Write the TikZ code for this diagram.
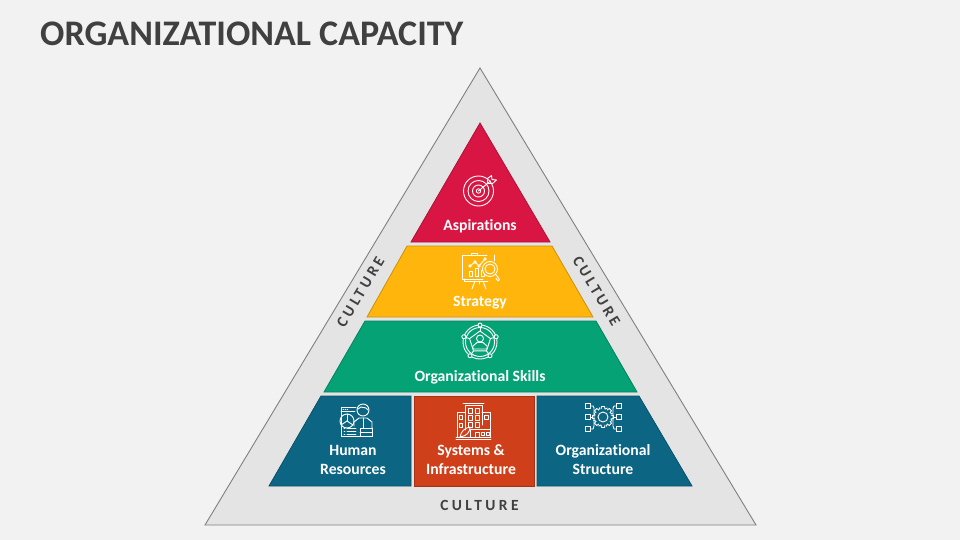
\documentclass[tikz,border=0pt]{standalone}
\usepackage{fontspec}
\setmainfont[Ligatures=NoCommon]{Carlito}
\newfontfamily\culturefont[LetterSpace=22,Ligatures=NoCommon]{Carlito}
\usetikzlibrary{calc}
\definecolor{pageColor}{HTML}{F2F2F2}
\definecolor{frameColor}{HTML}{E4E4E4}
\definecolor{titleColor}{HTML}{404040}
\definecolor{aspireColor}{HTML}{D91543}
\definecolor{strategyColor}{HTML}{FFB50B}
\definecolor{skillsColor}{HTML}{05A276}
\definecolor{humanColor}{HTML}{0C6583}
\definecolor{systemsColor}{HTML}{CF3F1A}

\begin{document}
\begin{tikzpicture}[x=1pt, y=-1pt]
    \tikzset{
        tier/.style={draw=#1!80!black, fill=#1, line width=0.8pt},
        tierlabel/.style={text=white, font=\fontsize{15.7}{19}\selectfont\bfseries, align=center, inner sep=0pt},
        culturelabel/.style={text=titleColor, font=\fontsize{15.5}{18}\selectfont\culturefont\bfseries, inner sep=0pt},
        iconline/.style={draw=white, line width=0.9pt, line join=round, line cap=round}
    }

    \fill[pageColor] (0,0) rectangle (960,540);
    \useasboundingbox (0,0) rectangle (960,540);

    \node[anchor=west, text=titleColor, font=\fontsize{36}{42}\selectfont\bfseries, inner sep=0pt] (title) at (40,34) {ORGANIZATIONAL CAPACITY};

    % --- OUTER FRAME ---
    \draw[fill=frameColor, draw=gray, line width=0.9pt] (480,68) -- (756,525) -- (205,525) -- cycle;
    \node[culturelabel, rotate=59] (cultureleft) at (360.5,292) {CULTURE};
    \node[culturelabel, rotate=-59] (cultureright) at (596.5,291) {CULTURE};
    \node[culturelabel] (culturebottom) at (479.5,505.5) {CULTURE};

    % --- TIERS ---
    \draw[tier=aspireColor] (480,123) -- (550,242) -- (411,242) -- cycle;
    \draw[tier=strategyColor] (407,246) -- (552,246) -- (593,317) -- (367,317) -- cycle;
    \draw[tier=skillsColor] (365,321) -- (596,321) -- (637,392) -- (324,392) -- cycle;
    \draw[tier=humanColor] (321,396) -- (411,396) -- (411,486) -- (269,486) -- cycle;
    \draw[tier=systemsColor] (414,396) -- (534,396) -- (534,486) -- (414,486) -- cycle;
    \draw[tier=humanColor] (537,396) -- (639,396) -- (692,486) -- (537,486) -- cycle;

    % --- LABELS ---
    \node[tierlabel] (aspirations) at (480,226) {Aspirations};
    \node[tierlabel] (strategy) at (480,302.5) {Strategy};
    \node[tierlabel] (skills) at (480,377) {Organizational Skills};
    \node[tierlabel] (human) at (353,459.5) {Human\\Resources};
    \node[tierlabel] (systems) at (471,459.5) {Systems \&\\Infrastructure};
    \node[tierlabel] (structure) at (603,459.5) {Organizational\\Structure};

    % --- ICONS ---
    % Target
    \begin{scope}[shift={(478.5,191)}, iconline]
        \foreach \r in {15,10.5,6,2.2} {
            \draw (0,0) circle (\r pt);
        }
        \draw (0,0) -- (12,-10);
        \draw (9,-7.5) -- (9,-12.5) -- (13,-15.5) -- (13.5,-11.5) -- (18,-11) -- (14,-7.5) -- cycle;
    \end{scope}

    % Presentation board with magnifier
    \begin{scope}[shift={(480,270)}, iconline]
        \draw (7,-15) -- (-18,-15) -- (-18,9) -- (3,9);
        \draw (14,-15) -- (14,-9);
        \draw (-9,-15) -- (-9,-17) -- (-3,-17) -- (-3,-15);
        \draw (-16,9) -- (-16,11) -- (8,11);
        \draw (-5,11) -- (-8,19);
        \draw (3,11) -- (6,19);
        \draw (-1,11) -- (-1,14);
        \foreach \x/\h in {-11/5,-5/8,1/6} {
            \draw (\x,6) rectangle (\x+3,6-\h);
        }
        \draw (-10,-4) -- (-5,-8) -- (-1,-4) -- (5,-11);
        \foreach \x/\y in {-10/-4,-5/-8,-1/-4,5/-11} {
            \draw[fill=strategyColor] (\x,\y) circle (1.2pt);
        }
        \draw[fill=strategyColor] (10,-1) circle (7.5pt);
        \draw (10,-1) circle (5pt);
        \draw (15.5,4.5) -- (18,7);
        \draw (16,8.5) -- (18,11) -- (19.5,9.5) -- (17.5,7);
    \end{scope}

    % Networked person
    \begin{scope}[shift={(480,342)}, iconline]
        \def\R{17}
        \draw (0,0) circle (\R pt);
        \draw (0,0) circle (14.5pt);
        \foreach \i in {1,...,5} {
            \coordinate (N\i) at ({-90+(\i-1)*72}:\R);
            \coordinate (M\i) at ({-90+(\i-1)*72}:11);
        }
        \draw (M1) -- (M2) -- (M3) -- (M4) -- (M5) -- cycle;
        \foreach \i in {1,...,5} {
            \draw (N\i) -- (M\i);
            \draw[fill=skillsColor] (N\i) circle (2pt);
        }
        \draw (0,-3.5) circle (3.5pt);
        \draw (-7,7) -- (-7,4) -- (-3,0.5) -- (3,0.5) -- (7,4) -- (7,7) -- cycle;
    \end{scope}

    % Chart window and person
    \begin{scope}[shift={(341,407)}, iconline]
        \draw (15,0) -- (0,0) -- (0,29) -- (31,29) -- (31,21);
        \draw (0,4) -- (14,4);
        \foreach \x in {2,4,6} {
            \draw (\x,2) -- (\x+0.6,2);
        }
        \draw (6,14) circle (7pt);
        \draw (6,14) -- (6,7);
        \draw (6,14) -- (0,18);
        \draw (6,14) -- (12,18);
        \foreach \y in {22,25,28} {
            \draw (3,\y-0.5) -- (4,\y-0.5);
            \draw (6,\y-0.5) -- (15,\y-0.5);
        }
        \draw (22,3) circle (6pt);
        \draw (17,2) -- (20,0) -- (25,1) -- (27,3);
        \draw (13,19) -- (13,15) -- (18,11) -- (26,11) -- (31,15) -- (31,21);
        \draw (19,21) rectangle (31,29);
        \draw (19,25) -- (31,25);
        \draw (22,11) -- (22,21);
    \end{scope}

    % Buildings
    \begin{scope}[shift={(457,403)}, iconline]
        \draw (8,27) -- (8,2) -- (25,2) -- (25,22);
        \draw (6,0) -- (27,0);
        \draw (8,9) -- (0,9) -- (0,34);
        \draw (25,9) -- (33,9) -- (33,34);
        \draw (-1,34) -- (34,34);
        \draw (-1,36) -- (34,36);
        \foreach \x in {11,18} {
            \foreach \y in {5,12,19} {
                \draw (\x,\y) rectangle (\x+4,\y+5);
            }
        }
        \foreach \y in {12,20} {
            \draw (2.5,\y) rectangle (5.5,\y+4);
        }
        \draw (27,12) rectangle (31,16);
        \draw (13,34) -- (13,26) -- (33,26);
        \draw (18,34) -- (18,29) -- (22,29) -- (22,34);
        \foreach \x in {24.5,29} {
            \draw (\x,29) rectangle (\x+3,32);
        }
        \draw (3,34) .. controls (4,28) and (8,25) .. (13,24) .. controls (13,29) and (10,33) .. (3,34);
    \end{scope}

    % Gear with linked blocks
    \begin{scope}[shift={(603,417)}, iconline]
        \foreach \a in {0,45,...,315} {
            \draw[rotate=\a] (-2,-8) -- (-1.5,-10.5) -- (1.5,-10.5) -- (2,-8);
            \draw[rotate=\a] (2,-8) arc (-76:-59:8.25pt);
        }
        \draw (0,0) circle (5pt);
        \foreach \y in {-11,0,12} {
            \draw (-17.5,\y-2.5) rectangle (-12.5,\y+2.5);
            \draw (13.5,\y-2.5) rectangle (18.5,\y+2.5);
        }
        \draw (-12.5,-11) -- (-10,-11) -- (-9,-9) -- (-9,9) -- (-10,12) -- (-12.5,12);
        \draw (13.5,-11) -- (11,-11) -- (10,-9) -- (10,9) -- (11,12) -- (13.5,12);
        \draw (-12.5,0) -- (-10.5,0);
        \draw (13.5,0) -- (11,0);
    \end{scope}
\end{tikzpicture}
\end{document}
